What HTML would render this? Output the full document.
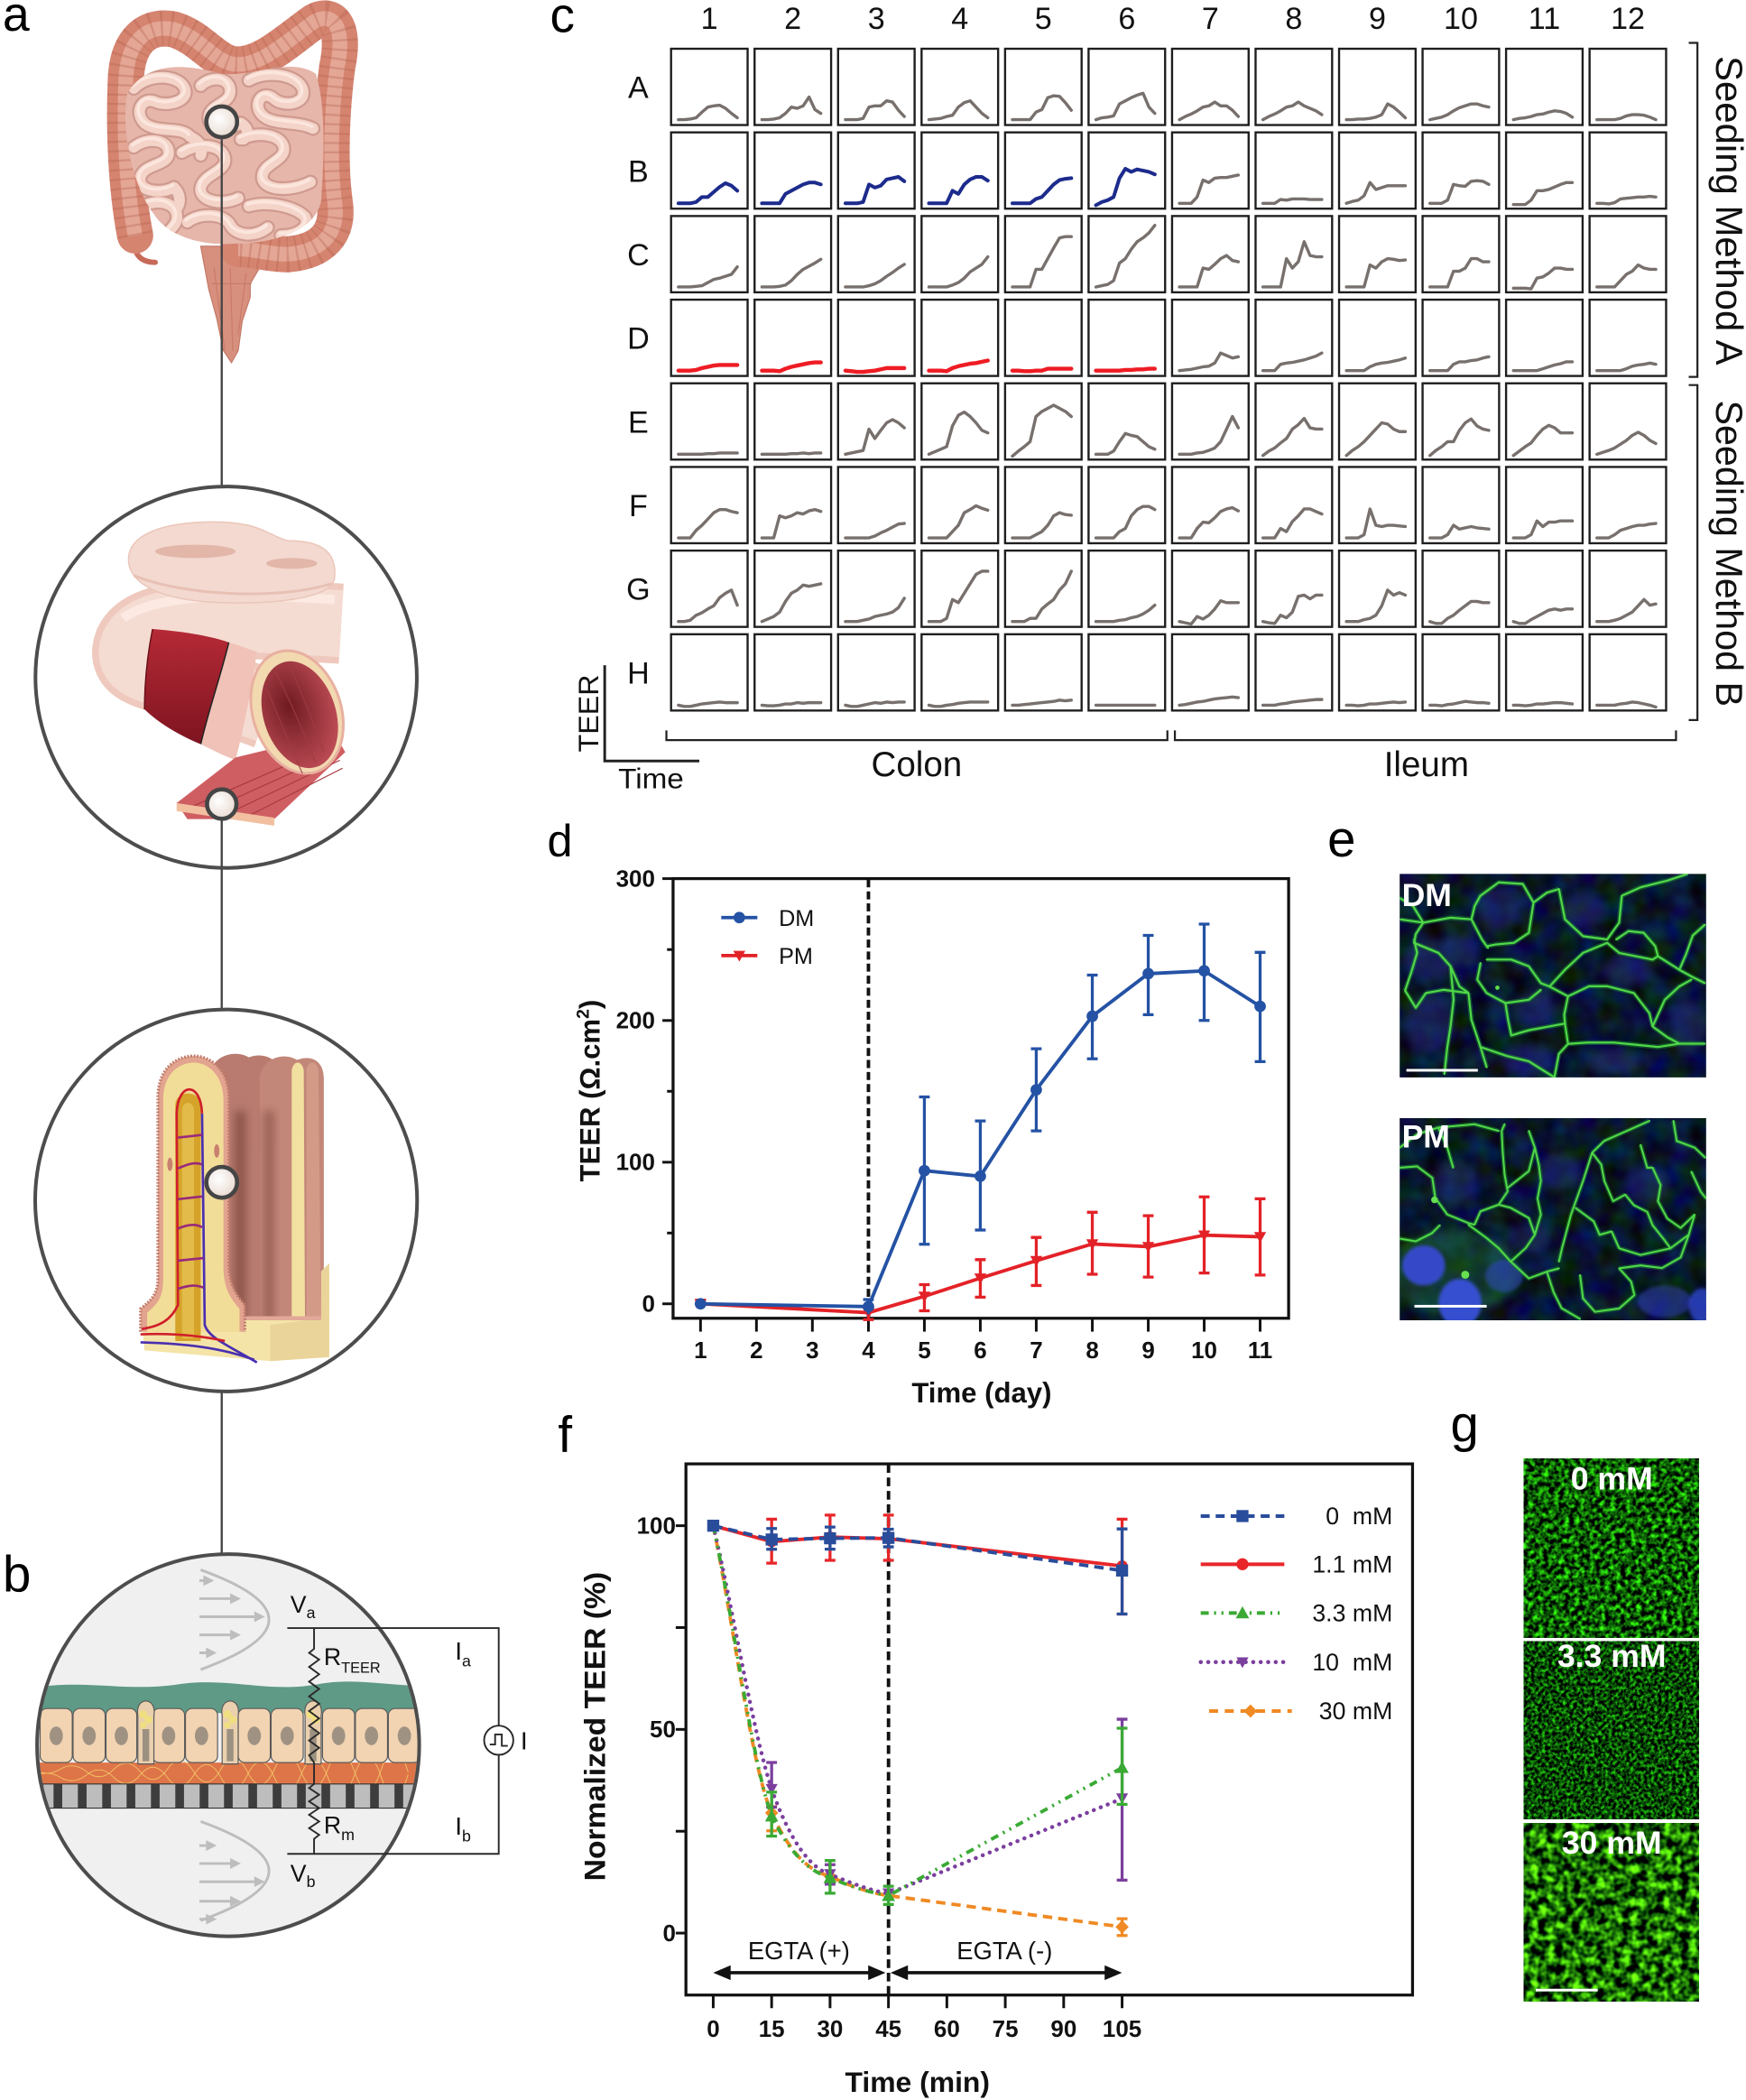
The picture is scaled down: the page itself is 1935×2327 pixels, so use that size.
<!DOCTYPE html>
<html><head><meta charset="utf-8">
<style>
html,body{margin:0;padding:0;background:#fff;}
svg{display:block;}
text{font-family:"Liberation Sans",Arial,sans-serif;}
.sp{fill:none;stroke-linejoin:round;stroke-linecap:round;vector-effect:non-scaling-stroke;}
.gy{stroke:#77706c;stroke-width:3.4;}
.bl{stroke:#1c2b8c;stroke-width:4;}
.rd{stroke:#ee1c24;stroke-width:4.4;}
.bx{fill:none;stroke:#1e1e1e;stroke-width:1.6;}
</style></head>
<body>
<svg xmlns="http://www.w3.org/2000/svg" xmlns:xlink="http://www.w3.org/1999/xlink" width="1935" height="2327" viewBox="0 0 1304.8 1569.1">
<defs>
<clipPath id="c1"><circle cx="169" cy="506" r="141"/></clipPath>
<clipPath id="c2"><circle cx="169" cy="897" r="141"/></clipPath>
<clipPath id="c3"><circle cx="170.5" cy="1304" r="141.5"/></clipPath>
<clipPath id="si"><path d="M 95 70 C 110 45, 140 48, 165 55 C 190 58, 215 42, 236 55 C 244 80, 242 120, 240 150 C 236 172, 205 182, 175 182 C 150 184, 125 176, 115 160 C 100 140, 90 100, 95 70 Z"/></clipPath>
<clipPath id="eDM"><rect x="0" y="0" width="229" height="152"/></clipPath>
<clipPath id="ePM"><rect x="0" y="0" width="229" height="151"/></clipPath>
<linearGradient id="redband" x1="0" y1="0" x2="0" y2="1"><stop offset="0" stop-color="#b52a36"/><stop offset="1" stop-color="#7e1420"/></linearGradient>
<radialGradient id="redint" cx="0.4" cy="0.4" r="0.7"><stop offset="0" stop-color="#6e1a20"/><stop offset="1" stop-color="#c4505a"/></radialGradient>
<radialGradient id="ringf" cx="0.4" cy="0.4" r="0.7"><stop offset="0" stop-color="#ffffff"/><stop offset="1" stop-color="#e6d6cc"/></radialGradient>
<filter id="blur3" x="-50%" y="-50%" width="200%" height="200%"><feGaussianBlur stdDeviation="3"/></filter>
<filter id="blur1" x="-50%" y="-50%" width="200%" height="200%"><feGaussianBlur stdDeviation="1.2"/></filter>
<filter id="g1" x="0" y="0" width="1" height="1" color-interpolation-filters="sRGB">
<feTurbulence type="fractalNoise" baseFrequency="0.26" numOctaves="2" seed="4"/>
<feColorMatrix type="matrix" values="0.5 0 0 0 -0.2  2.2 0 0 0 -0.74  0.12 0 0 0 -0.04  0 0 0 0 1"/></filter>
<filter id="g2" x="0" y="0" width="1" height="1" color-interpolation-filters="sRGB">
<feTurbulence type="fractalNoise" baseFrequency="0.38" numOctaves="2" seed="9"/>
<feColorMatrix type="matrix" values="0.4 0 0 0 -0.17  1.9 0 0 0 -0.66  0.12 0 0 0 -0.04  0 0 0 0 1"/></filter>
<filter id="g3" x="0" y="0" width="1" height="1" color-interpolation-filters="sRGB">
<feTurbulence type="fractalNoise" baseFrequency="0.16" numOctaves="2" seed="17"/>
<feColorMatrix type="matrix" values="1.2 0 0 0 -0.5  2.4 0 0 0 -0.78  0.15 0 0 0 -0.05  0 0 0 0 1"/></filter>
<filter id="en" x="0" y="0" width="1" height="1" color-interpolation-filters="sRGB">
<feTurbulence type="fractalNoise" baseFrequency="0.06" numOctaves="2" seed="5"/>
<feColorMatrix type="matrix" values="0.1 0 0 0 -0.02  0 0.3 0 0 -0.06  0 0 0.5 0 -0.08  0 0 0 0 1"/></filter>
<g id="dmL">
<polyline points="0.7,34 17.6,36.4 37.9,32.7 53.6,33.9 61.5,49 66,55.3"/>
<polyline points="53.6,33.9 56,24 60.3,16.3 74,6.3 92,7.5 100,21.4 96.5,44 85.3,51.5 71.8,52.7 65,54"/>
<polyline points="119,11.3 123.5,33.9 137,46.5 155,49 164,36.4 166,16.3"/>
<polyline points="161.8,49 171,42.7 182.3,44 191,54 193,61.5 189,64 164,59 155,51.5"/>
<polyline points="193,61.5 209,71.6 218,76.6 228,81.6"/>
<polyline points="65,64 83.4,64 96.5,69 105.5,81.6 112,84.1 123.5,71.6 137,59 155,51.5"/>
<polyline points="60.4,66.6 58,79 65,89 79,96.5 96.5,94 105.5,86.6"/>
<polyline points="79,96.5 81,109 83.4,120.6 96.5,116.8 123.5,111.8"/>
<polyline points="112,84.1 125.8,91.4 141.5,83.9 155,83.9 175,89 186.6,104 189,114"/>
<polyline points="189,114 198,94.2 209,84 218,79"/>
<polyline points="125.8,91.4 123,105 123.5,111.8 125.8,127 119,134.4 115.6,152"/>
<polyline points="125.8,127 140,126 160,126 193,129.3 209,126.8 228,126.8"/>
<polyline points="10.8,49 13,59 8.5,74 4,87.1"/>
<polyline points="10.8,51.5 29,59 38,69 44.6,84 51.4,89"/>
<polyline points="38,69 40.3,94 38,114 35.6,129.3 33.4,149.5"/>
<polyline points="51.4,89 53.6,109 60.4,129.3 65,144.4"/>
<polyline points="19.6,89 33,86.6 51.4,89"/>
<polyline points="17.6,36.4 12,45 10.8,51.5"/>
<polyline points="0,18 10,24 17.6,36.4"/>
<polyline points="166,16.3 180,10 200,5 215,0"/>
<polyline points="228,38 219,46 214,60 209,71.6"/>
<polyline points="60.4,129.3 80,136 96.5,140 115.6,152"/>
<polyline points="189,114 200,122 209,126.8"/>
<polyline points="100,21.4 110,14 119,11.3"/>
<polyline points="4,87.1 12,100 19.6,89"/>
</g>
<g id="pmL">
<polyline points="0,37 13,36 24.4,44.6 26.6,59.6 35.6,72 51.4,78.4 55.9,79.6"/>
<polyline points="55.9,79.6 60.4,69.6 74,64.6 83,67 96.5,74.6 101,87.1"/>
<polyline points="74,64.6 80.7,54.6 78.4,42 77,25 76.2,9.5 78.4,4.5"/>
<polyline points="80.7,52 96.5,39.5 101,22 96.5,9.5"/>
<polyline points="101,22 104,35 105.5,47 103,60 105.5,72 101,87.1 94.2,97 83,107.2"/>
<polyline points="83,107.2 96.5,119.7 110,114.7 119,112.2"/>
<polyline points="143.8,25.8 137,47 128,72.1 121.3,97.2 119,107.2"/>
<polyline points="143.8,25.8 152.8,17 175.4,7 186.6,2"/>
<polyline points="143.8,25.8 150.6,34.6 153,47 159.5,62 168.5,57.1"/>
<polyline points="131.5,67.1 145,77.1 149.4,87.1 158.4,84.6"/>
<polyline points="164,97.2 180,102.2 202.4,97.2 216,87.1 220.4,72.1"/>
<polyline points="204.6,2 207,17 220.4,22 228.3,29.5"/>
<polyline points="134.8,117.2 137,134.7 146,144.7 164,142.2 175.4,132.2 173,122.2 164,112.2"/>
<polyline points="51.4,79.6 65,89.6 74,97.2 83,107.2"/>
<polyline points="0,22 13,12 28.8,7 55.9,4.5 74,9.5"/>
<polyline points="28.8,7 35.6,22 40,37"/>
<polyline points="168.5,57.1 175,65 185,70 189,80 197,90 202.4,97.2"/>
<polyline points="189,37 195,50 193,62 200,75 210,82 220.4,72.1"/>
<polyline points="158.4,84.6 164,97.2"/>
<polyline points="110,114.7 115,130 121,142 134.8,150"/>
<polyline points="164,112.2 180,110 196,112 210,104 216,87.1"/>
<polyline points="218,40 225,55 229,60"/>
<polyline points="180,20 185,37 189,37"/>
<polyline points="0,90 12,92 24,86 30,80"/>
</g>
</defs>

<text x="2" y="23" font-size="36">a</text>
<text x="2" y="1189" font-size="38">b</text>
<text x="411" y="24" font-size="37">c</text>
<text x="409" y="640" font-size="34">d</text>
<text x="992" y="640" font-size="38">e</text>
<text x="417" y="1085" font-size="38">f</text>
<text x="1084" y="1077" font-size="38">g</text>

<!-- ================= PANEL A ================= -->
<g stroke="#454545" stroke-width="1.6">
<line x1="165.7" y1="612" x2="165.7" y2="755"/>
<line x1="165.7" y1="895" x2="165.7" y2="1162"/>
</g>
<path d="M 150 184 L 190 184 L 194 200 L 187 212 L 187 222 L 181 240 L 178 262 L 173 271 L 167 262 L 162 238 L 156 216 Z" fill="#d8907e" stroke="#c27866" stroke-width="0.8"/>
<path d="M 160 200 L 168 262 M 172 200 L 174 262 M 184 204 L 178 250 M 158 212 L 188 212" stroke="#c47060" stroke-width="0.8" fill="none" opacity="0.7"/>
<path d="M 103 178 C 98 188, 104 196, 116 196" stroke="#c76a58" stroke-width="4" fill="none" stroke-linecap="round"/>
<path d="M 101 176 C 96 150, 92 110, 94 60 C 95 30, 110 18, 130 22 C 150 28, 160 46, 175 48 C 195 50, 215 30, 235 16 C 250 8, 258 22, 252 50 C 248 80, 246 120, 250 150 C 254 175, 240 188, 215 190 C 200 190, 190 186, 178 186" stroke="#d58470" stroke-width="27" fill="none" stroke-linecap="round"/>
<path d="M 101 176 C 96 150, 92 110, 94 60 C 95 30, 110 18, 130 22 C 150 28, 160 46, 175 48 C 195 50, 215 30, 235 16 C 250 8, 258 22, 252 50 C 248 80, 246 120, 250 150 C 254 175, 240 188, 215 190 C 200 190, 190 186, 178 186" stroke="#e8b2a2" stroke-width="11" fill="none" opacity="0.75"/>
<path d="M 101 176 C 96 150, 92 110, 94 60 C 95 30, 110 18, 130 22 C 150 28, 160 46, 175 48 C 195 50, 215 30, 235 16 C 250 8, 258 22, 252 50 C 248 80, 246 120, 250 150 C 254 175, 240 188, 215 190 C 200 190, 190 186, 178 186" stroke="#b5604e" stroke-width="27" fill="none" stroke-dasharray="1.5 5.5" opacity="0.35"/>
<path d="M 95 70 C 110 45, 140 48, 165 55 C 190 58, 215 42, 236 55 C 244 80, 242 120, 240 150 C 236 172, 205 182, 175 182 C 150 184, 125 176, 115 160 C 100 140, 90 100, 95 70 Z" fill="#e6b6aa"/>
<g clip-path="url(#si)" fill="none" stroke-linecap="round" stroke-linejoin="round">
<g stroke="#cf9a8f" stroke-width="11">
<path d="M 100 66 C 112 54, 134 56, 138 66 C 142 76, 124 80, 116 76 C 106 72, 100 84, 108 92 C 118 100, 136 94, 142 102"/>
<path d="M 150 64 C 158 56, 172 58, 172 68 C 172 78, 156 78, 156 88 C 156 96, 170 98, 180 92"/>
<path d="M 186 60 C 200 52, 222 56, 226 66 C 230 78, 212 80, 205 74 C 196 66, 188 78, 196 86 C 204 94, 222 90, 234 96"/>
<path d="M 100 110 C 110 102, 126 104, 126 114 C 126 124, 108 122, 105 132 C 102 142, 118 146, 130 140"/>
<path d="M 136 114 C 148 106, 166 108, 168 118 C 170 128, 152 130, 150 140 C 148 150, 166 154, 178 148"/>
<path d="M 180 104 C 192 98, 210 100, 212 110 C 214 120, 196 122, 196 132 C 196 142, 216 144, 232 136"/>
<path d="M 104 156 C 114 148, 130 150, 132 160 C 134 170, 122 172, 126 178"/>
<path d="M 140 166 C 150 158, 168 160, 172 168 C 176 176, 190 178, 200 170"/>
<path d="M 186 154 C 200 150, 220 154, 228 162 C 232 170, 222 176, 210 176"/>
<path d="M 142 102 C 150 106, 152 110, 150 116"/>
<path d="M 180 92 C 186 96, 186 100, 182 104"/>
<path d="M 130 140 C 134 144, 136 150, 132 156"/>
</g>
<g stroke="#f4d3c8" stroke-width="8">
<path d="M 100 66 C 112 54, 134 56, 138 66 C 142 76, 124 80, 116 76 C 106 72, 100 84, 108 92 C 118 100, 136 94, 142 102"/>
<path d="M 150 64 C 158 56, 172 58, 172 68 C 172 78, 156 78, 156 88 C 156 96, 170 98, 180 92"/>
<path d="M 186 60 C 200 52, 222 56, 226 66 C 230 78, 212 80, 205 74 C 196 66, 188 78, 196 86 C 204 94, 222 90, 234 96"/>
<path d="M 100 110 C 110 102, 126 104, 126 114 C 126 124, 108 122, 105 132 C 102 142, 118 146, 130 140"/>
<path d="M 136 114 C 148 106, 166 108, 168 118 C 170 128, 152 130, 150 140 C 148 150, 166 154, 178 148"/>
<path d="M 180 104 C 192 98, 210 100, 212 110 C 214 120, 196 122, 196 132 C 196 142, 216 144, 232 136"/>
<path d="M 104 156 C 114 148, 130 150, 132 160 C 134 170, 122 172, 126 178"/>
<path d="M 140 166 C 150 158, 168 160, 172 168 C 176 176, 190 178, 200 170"/>
<path d="M 186 154 C 200 150, 220 154, 228 162 C 232 170, 222 176, 210 176"/>
<path d="M 142 102 C 150 106, 152 110, 150 116"/>
<path d="M 180 92 C 186 96, 186 100, 182 104"/>
<path d="M 130 140 C 134 144, 136 150, 132 156"/>
</g>
<g stroke="#fce8e0" stroke-width="2.5" transform="translate(-1 -1.6)" opacity="0.9">
<path d="M 100 66 C 112 54, 134 56, 138 66 C 142 76, 124 80, 116 76 C 106 72, 100 84, 108 92 C 118 100, 136 94, 142 102"/>
<path d="M 150 64 C 158 56, 172 58, 172 68 C 172 78, 156 78, 156 88 C 156 96, 170 98, 180 92"/>
<path d="M 186 60 C 200 52, 222 56, 226 66 C 230 78, 212 80, 205 74 C 196 66, 188 78, 196 86 C 204 94, 222 90, 234 96"/>
<path d="M 100 110 C 110 102, 126 104, 126 114 C 126 124, 108 122, 105 132 C 102 142, 118 146, 130 140"/>
<path d="M 136 114 C 148 106, 166 108, 168 118 C 170 128, 152 130, 150 140 C 148 150, 166 154, 178 148"/>
<path d="M 180 104 C 192 98, 210 100, 212 110 C 214 120, 196 122, 196 132 C 196 142, 216 144, 232 136"/>
<path d="M 104 156 C 114 148, 130 150, 132 160 C 134 170, 122 172, 126 178"/>
<path d="M 140 166 C 150 158, 168 160, 172 168 C 176 176, 190 178, 200 170"/>
<path d="M 186 154 C 200 150, 220 154, 228 162 C 232 170, 222 176, 210 176"/>
</g>
</g>
<line x1="165.7" y1="104" x2="165.7" y2="364" stroke="#454545" stroke-width="1.6"/>
<circle cx="165.7" cy="91" r="11.5" fill="url(#ringf)" stroke="#454545" stroke-width="3.1"/>

<circle cx="169" cy="506" r="142.5" fill="#fff" stroke="#4d4d4d" stroke-width="2.7"/>
<line x1="165.7" y1="612" x2="165.7" y2="648" stroke="#454545" stroke-width="1.6"/>
<g clip-path="url(#c1)">
<path d="M 255 466 C 190 462, 112 456, 100 482 C 94 498, 112 500, 135 507 L 200 530" stroke="#efc9bd" stroke-width="60" fill="none"/>
<path d="M 255 466 C 190 462, 112 456, 100 482 C 94 498, 112 500, 135 507 L 200 530" stroke="#f5dcd2" stroke-width="50" fill="none"/>
<path d="M 250 448 C 190 444, 118 442, 92 462" stroke="#fbebe5" stroke-width="7" fill="none" opacity="0.85"/>
<path d="M 96 418 C 96 400, 120 390, 160 390 C 195 390, 200 400, 215 404 C 240 404, 252 412, 250 432 C 248 448, 200 452, 160 450 C 120 448, 96 436, 96 418 Z" fill="#f3d9cf" stroke="#ebc6ba" stroke-width="1"/>
<ellipse cx="146" cy="412" rx="30" ry="5" fill="#e2b6a9"/>
<ellipse cx="218" cy="421" rx="19" ry="4" fill="#e2b6a9"/>
<path d="M 100 430 C 140 446, 210 448, 248 436" stroke="#e8c0b4" stroke-width="2" fill="none"/>
<path d="M 114 470 C 140 472, 160 476, 171 480 C 165 505, 156 530, 150 556 C 135 550, 118 540, 108 530 C 108 510, 110 490, 114 470 Z" fill="url(#redband)"/>
<path d="M 171 480 C 178 482, 186 485, 192 487 C 188 515, 182 545, 176 568 C 168 565, 158 560, 150 556 C 156 530, 165 505, 171 480 Z" fill="#f0c2b8"/>
<path d="M 171 480 C 165 505, 156 530, 150 556" stroke="#222" stroke-width="1" fill="none"/>
<path d="M 114 470 C 110 490, 108 510, 108 530" stroke="#6a1018" stroke-width="1" fill="none"/>
<polygon points="176,566 250,548 258,562 205,612 140,612 132,600" fill="#cf5e62"/>
<path d="M 145 602 L 250 556 M 155 606 L 252 562 M 168 609 L 254 568 M 185 610 L 256 574" stroke="#a83a40" stroke-width="0.8"/>
<polygon points="132,600 205,611 205,617 132,606" fill="#f2c0a0"/>
<ellipse cx="222" cy="532" rx="33" ry="47" transform="rotate(-18 222 532)" fill="#f2d9b0" stroke="#e8b0a0" stroke-width="2"/>
<ellipse cx="224" cy="534" rx="27" ry="41" transform="rotate(-18 224 534)" fill="url(#redint)"/>
<path d="M 206 502 C 216 522, 226 545, 236 570 M 216 497 C 226 518, 234 540, 242 562 M 199 514 C 208 535, 216 555, 226 578" stroke="#a03a44" stroke-width="1" fill="none" opacity="0.7"/>
</g>
<circle cx="165.7" cy="600.8" r="11" fill="url(#ringf)" stroke="#454545" stroke-width="3.1"/>

<circle cx="169" cy="897" r="142.7" fill="#fff" stroke="#4d4d4d" stroke-width="2.7"/>
<g clip-path="url(#c2)">
<path d="M 156 805 C 158 788, 176 784, 186 790 C 196 786, 210 790, 210 806 L 210 990 L 156 990 Z" fill="#b97b70"/>
<path d="M 194 806 C 196 790, 212 786, 222 792 C 232 788, 242 792, 242 806 L 242 990 L 194 990 Z" fill="#c38779"/>
<rect x="175" y="830" width="9" height="160" fill="#6e3a33" opacity="0.55" filter="url(#blur3)"/>
<rect x="197" y="830" width="8" height="160" fill="#6e3a33" opacity="0.45" filter="url(#blur3)"/>
<path d="M 218 800 C 219 792, 226 792, 227 800 L 228 1000 L 218 1000 Z" fill="#f2e0a0"/>
<path d="M 229 800 C 230 792, 237 792, 238 800 L 240 1000 L 229 1000 Z" fill="#d39a88"/>
<polygon points="106,988 108,1009 202,1017 246,1014 246,944 240,950 240,985 170,985" fill="#f4e4a8"/>
<polygon points="202,1017 246,1014 246,944 240,950 240,985 202,990" fill="#ead49a"/>
<path d="M 170 985 L 240 985" stroke="#e2a898" stroke-width="3"/>
<path d="M 105 995 L 105 978 C 112 972, 118 968, 118 955 L 118 820 C 118 798, 132 789, 145 789 C 158 789, 171 800, 171 820 L 171 945 C 171 960, 177 968, 183 975 L 183 995 Z" fill="#e2a48f"/>
<path d="M 105 995 L 105 978 C 112 972, 118 968, 118 955 L 118 820 C 118 798, 132 789, 145 789 C 158 789, 171 800, 171 820 L 171 945 C 171 960, 177 968, 183 975 L 183 995" fill="none" stroke="#c07a6a" stroke-width="2.2" stroke-dasharray="1.2 1.2"/>
<path d="M 110 995 L 110 981 C 116 975, 122 972, 122 955 L 122 822 C 122 802, 134 794, 145 794 C 156 794, 167 804, 167 822 L 167 947 C 167 962, 172 970, 179 978 L 179 995 Z" fill="#f2dd98"/>
<path d="M 131 1002 L 131 826 C 131 814, 150 814, 150 826 L 150 1002 Z" fill="#d5a32a"/>
<path d="M 136 1000 L 136 830 C 136 822, 145 822, 145 830 L 145 1000 Z" fill="#e2bb4a"/>
<g fill="none" stroke-width="1.8">
<path d="M 106 993 C 120 991, 128 986, 133 975 L 132 832 C 133 808, 150 808, 151 832" stroke="#d0202a"/>
<path d="M 151 832 L 153 990 C 156 1000, 172 1006, 192 1018" stroke="#4a2fb0"/>
<path d="M 133 850 L 151 848 M 133 873 C 140 870, 145 868, 151 870 M 133 896 L 151 894 M 133 918 C 140 915, 146 914, 151 917 M 133 942 L 152 940 M 133 963 C 142 960, 146 960, 152 962" stroke="#9a2a7a"/>
<path d="M 105 997 C 130 996, 150 998, 168 1002" stroke="#d0202a"/>
<path d="M 105 1003 C 140 1004, 165 1007, 190 1016" stroke="#4a2fb0"/>
</g>
<ellipse cx="127" cy="870" rx="2" ry="5" fill="#c88070"/>
<ellipse cx="162" cy="860" rx="2" ry="5" fill="#c88070"/>
</g>
<circle cx="165.7" cy="883.4" r="11.5" fill="url(#ringf)" stroke="#454545" stroke-width="3.1"/>

<!-- ================= PANEL B ================= -->
<circle cx="170.5" cy="1304" r="142.8" fill="#f0f0f0"/>
<g clip-path="url(#c3)">
<path d="M 20 1262 C 60 1254, 90 1264, 130 1259 C 170 1252, 200 1266, 240 1258 C 270 1253, 300 1262, 330 1259 L 330 1280 L 20 1280 Z" fill="#5f9a86"/>
<rect x="20" y="1317" width="320" height="16" fill="#de7548"/>
<path d="M 25 1322 q 10 6 20 0 t 20 2 t 20 -2 t 20 2 t 20 -2 t 20 2 t 20 -2 t 20 2 t 20 -2 t 20 2 t 20 -2 t 20 2 t 20 -2 t 20 2 M 25 1328 q 10 -6 20 0 t 20 -2 t 20 2 t 20 -2 t 20 2 t 20 -2 t 20 2 t 20 -2 t 20 2 t 20 -2 t 20 2 t 20 -2 t 20 2 t 20 -2" stroke="#f3c468" stroke-width="0.6" fill="none"/>
<rect x="20" y="1333" width="320" height="18" fill="#bdbdbd"/>
<g fill="#3d3d3d">
<rect x="40" y="1333" width="6.5" height="18"/><rect x="58.2" y="1333" width="6.5" height="18"/><rect x="76.4" y="1333" width="6.5" height="18"/><rect x="94.6" y="1333" width="6.5" height="18"/><rect x="112.8" y="1333" width="6.5" height="18"/><rect x="131" y="1333" width="6.5" height="18"/><rect x="149.2" y="1333" width="6.5" height="18"/><rect x="167.4" y="1333" width="6.5" height="18"/><rect x="185.6" y="1333" width="6.5" height="18"/><rect x="203.8" y="1333" width="6.5" height="18"/><rect x="222" y="1333" width="6.5" height="18"/><rect x="240.2" y="1333" width="6.5" height="18"/><rect x="258.4" y="1333" width="6.5" height="18"/><rect x="276.6" y="1333" width="6.5" height="18"/><rect x="294.8" y="1333" width="6.5" height="18"/><rect x="26" y="1333" width="6.5" height="18"/>
</g>
<line x1="20" y1="1333" x2="340" y2="1333" stroke="#333" stroke-width="0.8"/>
<line x1="20" y1="1351" x2="340" y2="1351" stroke="#333" stroke-width="0.8"/>
<g fill="#f2d4b2" stroke="#5a5a5a" stroke-width="0.8">
<rect x="30" y="1276.6" width="24" height="40.4" rx="5"/><rect x="54.6" y="1276.6" width="24" height="40.4" rx="5"/><rect x="79.2" y="1276.6" width="23" height="40.4" rx="5"/><rect x="114" y="1276.6" width="24" height="40.4" rx="5"/><rect x="138.6" y="1276.6" width="24" height="40.4" rx="5"/><rect x="178" y="1276.6" width="24" height="40.4" rx="5"/><rect x="202.6" y="1276.6" width="24" height="40.4" rx="5"/><rect x="241" y="1276.6" width="24" height="40.4" rx="5"/><rect x="265.6" y="1276.6" width="24" height="40.4" rx="5"/><rect x="290.2" y="1276.6" width="24" height="40.4" rx="5"/>
</g>
<g fill="#a09282">
<ellipse cx="42" cy="1297" rx="5" ry="7"/><ellipse cx="66.6" cy="1297" rx="5" ry="7"/><ellipse cx="90.7" cy="1297" rx="5" ry="7"/><ellipse cx="126" cy="1297" rx="5" ry="7"/><ellipse cx="150.6" cy="1297" rx="5" ry="7"/><ellipse cx="190" cy="1297" rx="5" ry="7"/><ellipse cx="214.6" cy="1297" rx="5" ry="7"/><ellipse cx="253" cy="1297" rx="5" ry="7"/><ellipse cx="277.6" cy="1297" rx="5" ry="7"/><ellipse cx="302.2" cy="1297" rx="5" ry="7"/>
</g>
<g>
<path d="M 103 1318 L 103 1282 C 102 1276, 104 1272, 108 1271 L 110 1271 C 114 1272, 116 1276, 115 1282 L 115 1318 Z" fill="#ead0ae" stroke="#5a5a5a" stroke-width="0.8"/>
<rect x="106.5" y="1292" width="5" height="24" fill="#9c9080"/>
<circle cx="107" cy="1281" r="3" fill="#f0df80"/><circle cx="111" cy="1285" r="3" fill="#f0df80"/><circle cx="107" cy="1289" r="2.5" fill="#f0df80"/>
<path d="M 166 1318 L 166 1282 C 165 1276, 167 1272, 171 1271 L 173 1271 C 177 1272, 179 1276, 178 1282 L 178 1318 Z" fill="#ead0ae" stroke="#5a5a5a" stroke-width="0.8"/>
<rect x="169.5" y="1292" width="5" height="24" fill="#9c9080"/>
<circle cx="170" cy="1281" r="3" fill="#f0df80"/><circle cx="174" cy="1285" r="3" fill="#f0df80"/><circle cx="170" cy="1289" r="2.5" fill="#f0df80"/>
<path d="M 228 1318 L 228 1282 C 227 1276, 229 1272, 233 1271 L 235 1271 C 239 1272, 241 1276, 240 1282 L 240 1318 Z" fill="#ead0ae" stroke="#5a5a5a" stroke-width="0.8"/>
<rect x="231.5" y="1292" width="5" height="24" fill="#9c9080"/>
<circle cx="232" cy="1281" r="3" fill="#f0df80"/><circle cx="236" cy="1285" r="3" fill="#f0df80"/>
</g>
<g fill="none" stroke="#bdbdbd" stroke-width="2">
<path d="M 150 1173 Q 252 1210 150 1247.5"/>
<path d="M 150 1361 Q 252 1398 150 1435"/>
<path d="M 149 1181 L 153 1181 M 149 1194.5 L 172 1194.5 M 149 1208 L 190 1208 M 149 1221.6 L 172 1221.6 M 149 1235 L 154 1235"/>
<path d="M 149 1379 L 154 1379 M 149 1392.4 L 172 1392.4 M 149 1406 L 190 1406 M 149 1420.6 L 172 1420.6 M 149 1434 L 154 1434"/>
</g>
<g fill="#bdbdbd">
<polygon points="160,1181 152,1177 152,1185"/><polygon points="180,1194.5 172,1190.5 172,1198.5"/><polygon points="198,1208 190,1204 190,1212"/><polygon points="180,1221.6 172,1217.6 172,1225.6"/><polygon points="162,1235 154,1231 154,1239"/>
<polygon points="162,1379 154,1375 154,1383"/><polygon points="180,1392.4 172,1388.4 172,1396.4"/><polygon points="198,1406 190,1402 190,1410"/><polygon points="180,1420.6 172,1416.6 172,1424.6"/><polygon points="162,1434 154,1430 154,1438"/>
</g>
</g>
<circle cx="170.5" cy="1304" r="142.8" fill="none" stroke="#4d4d4d" stroke-width="2.7"/>
<g fill="none" stroke="#2a2a2a" stroke-width="1.3">
<path d="M 214.7 1216.5 L 372.7 1216.5 L 372.7 1289.4 M 372.7 1311.2 L 372.7 1385.2 L 214.7 1385.2"/>
<polyline points="234.7,1216.5 234.7,1232 231,1235 238.5,1240 231,1245.5 238.5,1251 231,1256.5 238.5,1262 231,1267.5 238.5,1273 231,1278.5 238.5,1284 231,1289.5 238.5,1295 231,1300.5 238.5,1306 231,1311.5 234.7,1317 234.7,1333 231,1336 238.5,1341 231,1346 238.5,1351 231,1356 238.5,1361 231,1366 238.5,1371 234.7,1374 234.7,1385.2"/>
<circle cx="372.7" cy="1300.3" r="10.9" fill="#fff"/>
<path d="M 366 1303.5 L 370 1303.5 L 370 1296 L 375 1296 L 375 1304.5 L 379.5 1304.5"/>
</g>
<g font-size="18" fill="#111">
<text x="217" y="1205">V<tspan font-size="12" dy="4">a</tspan></text>
<text x="242" y="1244">R<tspan font-size="11" dy="6">TEER</tspan></text>
<text x="242" y="1370">R<tspan font-size="12" dy="5">m</tspan></text>
<text x="217" y="1406">V<tspan font-size="12" dy="4">b</tspan></text>
</g>
<g font-size="19" fill="#111" style="font-family:'Liberation Serif',serif">
<text x="340" y="1240">I<tspan font-size="12" dy="5" style="font-family:'Liberation Sans',sans-serif">a</tspan></text>
<text x="340" y="1371">I<tspan font-size="12" dy="5" style="font-family:'Liberation Sans',sans-serif">b</tspan></text>
<text x="389" y="1307">I</text>
</g>

<!-- ================= PANEL C ================= -->
<g font-size="23" fill="#111" text-anchor="middle">
<text x="530.1" y="21.5">1</text><text x="592.5" y="21.5">2</text><text x="654.9" y="21.5">3</text><text x="717.3" y="21.5">4</text><text x="779.7" y="21.5">5</text><text x="842.1" y="21.5">6</text><text x="904.5" y="21.5">7</text><text x="966.9" y="21.5">8</text><text x="1029.3" y="21.5">9</text><text x="1091.7" y="21.5">10</text><text x="1154.1" y="21.5">11</text><text x="1216.5" y="21.5">12</text>
<text x="477" y="73.2">A</text><text x="477" y="135.7">B</text><text x="477" y="198.2">C</text><text x="477" y="260.7">D</text><text x="477" y="323.2">E</text><text x="477" y="385.7">F</text><text x="477" y="448.2">G</text><text x="477" y="510.7">H</text>
</g>
<g class="bx">
<rect x="501.5" y="36.4" width="57.2" height="57"/><rect x="563.9" y="36.4" width="57.2" height="57"/><rect x="626.3" y="36.4" width="57.2" height="57"/><rect x="688.7" y="36.4" width="57.2" height="57"/><rect x="751.1" y="36.4" width="57.2" height="57"/><rect x="813.5" y="36.4" width="57.2" height="57"/><rect x="875.9" y="36.4" width="57.2" height="57"/><rect x="938.3" y="36.4" width="57.2" height="57"/><rect x="1000.7" y="36.4" width="57.2" height="57"/><rect x="1063.1" y="36.4" width="57.2" height="57"/><rect x="1125.5" y="36.4" width="57.2" height="57"/><rect x="1187.9" y="36.4" width="57.2" height="57"/>
<rect x="501.5" y="98.9" width="57.2" height="57"/><rect x="563.9" y="98.9" width="57.2" height="57"/><rect x="626.3" y="98.9" width="57.2" height="57"/><rect x="688.7" y="98.9" width="57.2" height="57"/><rect x="751.1" y="98.9" width="57.2" height="57"/><rect x="813.5" y="98.9" width="57.2" height="57"/><rect x="875.9" y="98.9" width="57.2" height="57"/><rect x="938.3" y="98.9" width="57.2" height="57"/><rect x="1000.7" y="98.9" width="57.2" height="57"/><rect x="1063.1" y="98.9" width="57.2" height="57"/><rect x="1125.5" y="98.9" width="57.2" height="57"/><rect x="1187.9" y="98.9" width="57.2" height="57"/>
<rect x="501.5" y="161.4" width="57.2" height="57"/><rect x="563.9" y="161.4" width="57.2" height="57"/><rect x="626.3" y="161.4" width="57.2" height="57"/><rect x="688.7" y="161.4" width="57.2" height="57"/><rect x="751.1" y="161.4" width="57.2" height="57"/><rect x="813.5" y="161.4" width="57.2" height="57"/><rect x="875.9" y="161.4" width="57.2" height="57"/><rect x="938.3" y="161.4" width="57.2" height="57"/><rect x="1000.7" y="161.4" width="57.2" height="57"/><rect x="1063.1" y="161.4" width="57.2" height="57"/><rect x="1125.5" y="161.4" width="57.2" height="57"/><rect x="1187.9" y="161.4" width="57.2" height="57"/>
<rect x="501.5" y="223.9" width="57.2" height="57"/><rect x="563.9" y="223.9" width="57.2" height="57"/><rect x="626.3" y="223.9" width="57.2" height="57"/><rect x="688.7" y="223.9" width="57.2" height="57"/><rect x="751.1" y="223.9" width="57.2" height="57"/><rect x="813.5" y="223.9" width="57.2" height="57"/><rect x="875.9" y="223.9" width="57.2" height="57"/><rect x="938.3" y="223.9" width="57.2" height="57"/><rect x="1000.7" y="223.9" width="57.2" height="57"/><rect x="1063.1" y="223.9" width="57.2" height="57"/><rect x="1125.5" y="223.9" width="57.2" height="57"/><rect x="1187.9" y="223.9" width="57.2" height="57"/>
<rect x="501.5" y="286.4" width="57.2" height="57"/><rect x="563.9" y="286.4" width="57.2" height="57"/><rect x="626.3" y="286.4" width="57.2" height="57"/><rect x="688.7" y="286.4" width="57.2" height="57"/><rect x="751.1" y="286.4" width="57.2" height="57"/><rect x="813.5" y="286.4" width="57.2" height="57"/><rect x="875.9" y="286.4" width="57.2" height="57"/><rect x="938.3" y="286.4" width="57.2" height="57"/><rect x="1000.7" y="286.4" width="57.2" height="57"/><rect x="1063.1" y="286.4" width="57.2" height="57"/><rect x="1125.5" y="286.4" width="57.2" height="57"/><rect x="1187.9" y="286.4" width="57.2" height="57"/>
<rect x="501.5" y="348.9" width="57.2" height="57"/><rect x="563.9" y="348.9" width="57.2" height="57"/><rect x="626.3" y="348.9" width="57.2" height="57"/><rect x="688.7" y="348.9" width="57.2" height="57"/><rect x="751.1" y="348.9" width="57.2" height="57"/><rect x="813.5" y="348.9" width="57.2" height="57"/><rect x="875.9" y="348.9" width="57.2" height="57"/><rect x="938.3" y="348.9" width="57.2" height="57"/><rect x="1000.7" y="348.9" width="57.2" height="57"/><rect x="1063.1" y="348.9" width="57.2" height="57"/><rect x="1125.5" y="348.9" width="57.2" height="57"/><rect x="1187.9" y="348.9" width="57.2" height="57"/>
<rect x="501.5" y="411.4" width="57.2" height="57"/><rect x="563.9" y="411.4" width="57.2" height="57"/><rect x="626.3" y="411.4" width="57.2" height="57"/><rect x="688.7" y="411.4" width="57.2" height="57"/><rect x="751.1" y="411.4" width="57.2" height="57"/><rect x="813.5" y="411.4" width="57.2" height="57"/><rect x="875.9" y="411.4" width="57.2" height="57"/><rect x="938.3" y="411.4" width="57.2" height="57"/><rect x="1000.7" y="411.4" width="57.2" height="57"/><rect x="1063.1" y="411.4" width="57.2" height="57"/><rect x="1125.5" y="411.4" width="57.2" height="57"/><rect x="1187.9" y="411.4" width="57.2" height="57"/>
<rect x="501.5" y="473.9" width="57.2" height="57"/><rect x="563.9" y="473.9" width="57.2" height="57"/><rect x="626.3" y="473.9" width="57.2" height="57"/><rect x="688.7" y="473.9" width="57.2" height="57"/><rect x="751.1" y="473.9" width="57.2" height="57"/><rect x="813.5" y="473.9" width="57.2" height="57"/><rect x="875.9" y="473.9" width="57.2" height="57"/><rect x="938.3" y="473.9" width="57.2" height="57"/><rect x="1000.7" y="473.9" width="57.2" height="57"/><rect x="1063.1" y="473.9" width="57.2" height="57"/><rect x="1125.5" y="473.9" width="57.2" height="57"/><rect x="1187.9" y="473.9" width="57.2" height="57"/>
</g>
<polyline class="sp gy" transform="translate(507 89.4) scale(4.4 -47)" points="0,0 1,0 2,.01 3,.03 4,.12 5,.2 6,.22 7,.23 8,.18 9,.1 10,.03"/>
<polyline class="sp gy" transform="translate(569.4 89.4) scale(4.4 -47)" points="0,0 1,0 2,.01 3,.03 4,.1 5,.2 6,.18 7,.22 8,.36 9,.16 10,.1"/>
<polyline class="sp gy" transform="translate(631.8 89.4) scale(4.4 -47)" points="0,0 1,0 2,0 3,.02 4,.2 5,.22 6,.22 7,.3 8,.28 9,.15 10,.05"/>
<polyline class="sp gy" transform="translate(694.2 89.4) scale(4.4 -47)" points="0,0 1,.01 2,.02 3,.05 4,.07 5,.2 6,.27 7,.3 8,.2 9,.1 10,.03"/>
<polyline class="sp gy" transform="translate(756.6 89.4) scale(4.4 -47)" points="0,0 1,0 2,0 3,0 4,.12 5,.16 6,.35 7,.38 8,.37 9,.27 10,.15"/>
<polyline class="sp gy" transform="translate(819 89.4) scale(4.4 -47)" points="0,0 1,.03 2,.04 3,.06 4,.25 5,.3 6,.35 7,.39 8,.42 9,.2 10,.1"/>
<polyline class="sp gy" transform="translate(881.4 89.4) scale(4.4 -47)" points="0,0 1,.05 2,.09 3,.14 4,.2 5,.22 6,.28 7,.22 8,.22 9,.15 10,.05"/>
<polyline class="sp gy" transform="translate(943.8 89.4) scale(4.4 -47)" points="0,0 1,.05 2,.09 3,.14 4,.2 5,.22 6,.28 7,.22 8,.18 9,.14 10,.08"/>
<polyline class="sp gy" transform="translate(1006.2 89.4) scale(4.4 -47)" points="0,0 1,0 2,.01 3,.01 4,.02 5,.04 6,.08 7,.25 8,.2 9,.12 10,.03"/>
<polyline class="sp gy" transform="translate(1068.6 89.4) scale(4.4 -47)" points="0,0 1,.02 2,.04 3,.08 4,.14 5,.19 6,.22 7,.25 8,.25 9,.22 10,.2"/>
<polyline class="sp gy" transform="translate(1131 89.4) scale(4.4 -47)" points="0,0 1,.02 2,.03 3,.05 4,.08 5,.09 6,.12 7,.14 8,.13 9,.1 10,.04"/>
<polyline class="sp gy" transform="translate(1193.4 89.4) scale(4.4 -47)" points="0,0 1,0 2,0 3,0 4,.02 5,.06 6,.08 7,.08 8,.07 9,.04 10,0"/>
<polyline class="sp bl" transform="translate(507 151.9) scale(4.4 -47)" points="0,0 1,0 2,0 3,.02 4,.1 5,.1 6,.18 7,.26 8,.32 9,.28 10,.2"/>
<polyline class="sp bl" transform="translate(569.4 151.9) scale(4.4 -47)" points="0,0 1,0 2,0 3,0 4,.15 5,.2 6,.25 7,.3 8,.33 9,.33 10,.3"/>
<polyline class="sp bl" transform="translate(631.8 151.9) scale(4.4 -47)" points="0,0 1,0 2,0 3,.02 4,.3 5,.25 6,.28 7,.38 8,.4 9,.42 10,.35"/>
<polyline class="sp bl" transform="translate(694.2 151.9) scale(4.4 -47)" points="0,0 1,0 2,0 3,0 4,.2 5,.15 6,.3 7,.38 8,.42 9,.42 10,.36"/>
<polyline class="sp bl" transform="translate(756.6 151.9) scale(4.4 -47)" points="0,0 1,0 2,0 3,0 4,.07 5,.1 6,.2 7,.3 8,.37 9,.39 10,.4"/>
<polyline class="sp bl" transform="translate(819 151.9) scale(4.4 -47)" points="0,-.03 1,.02 2,.05 3,.1 4,.4 5,.55 6,.5 7,.54 8,.52 9,.5 10,.46"/>
<polyline class="sp gy" transform="translate(881.4 151.9) scale(4.4 -47)" points="0,0 1,0 2,0 3,.1 4,.37 5,.33 6,.4 7,.41 8,.41 9,.43 10,.45"/>
<polyline class="sp gy" transform="translate(943.8 151.9) scale(4.4 -47)" points="0,0 1,0 2,0 3,.06 4,.05 5,.07 6,.07 7,.07 8,.06 9,.06 10,.06"/>
<polyline class="sp gy" transform="translate(1006.2 151.9) scale(4.4 -47)" points="0,0 1,.03 2,.05 3,.12 4,.33 5,.22 6,.25 7,.28 8,.28 9,.28 10,.28"/>
<polyline class="sp gy" transform="translate(1068.6 151.9) scale(4.4 -47)" points="0,0 1,0 2,0 3,.05 4,.3 5,.28 6,.27 7,.35 8,.36 9,.35 10,.3"/>
<polyline class="sp gy" transform="translate(1131 151.9) scale(4.4 -47)" points="0,-.02 1,-.02 2,-.02 3,.05 4,.2 5,.2 6,.22 7,.26 8,.3 9,.33 10,.33"/>
<polyline class="sp gy" transform="translate(1193.4 151.9) scale(4.4 -47)" points="0,0 1,0 2,-.01 3,.01 4,.07 5,.08 6,.09 7,.1 8,.1 9,.11 10,.1"/>
<polyline class="sp gy" transform="translate(507 214.4) scale(4.4 -47)" points="0,0 1,0 2,0 3,.01 4,.02 5,.07 6,.12 7,.14 8,.17 9,.2 10,.32"/>
<polyline class="sp gy" transform="translate(569.4 214.4) scale(4.4 -47)" points="0,0 1,0 2,0 3,.01 4,.03 5,.1 6,.2 7,.28 8,.33 9,.38 10,.44"/>
<polyline class="sp gy" transform="translate(631.8 214.4) scale(4.4 -47)" points="0,0 1,0 2,0 3,0 4,.02 5,.05 6,.1 7,.17 8,.23 9,.3 10,.36"/>
<polyline class="sp gy" transform="translate(694.2 214.4) scale(4.4 -47)" points="0,0 1,0 2,0 3,0 4,.03 5,.07 6,.14 7,.24 8,.3 9,.36 10,.48"/>
<polyline class="sp gy" transform="translate(756.6 214.4) scale(4.4 -47)" points="0,0 1,0 2,0 3,0 4,.28 5,.28 6,.45 7,.62 8,.78 9,.8 10,.8"/>
<polyline class="sp gy" transform="translate(819 214.4) scale(4.4 -47)" points="0,0 1,.02 2,.04 3,.1 4,.38 5,.45 6,.6 7,.72 8,.78 9,.86 10,.98"/>
<polyline class="sp gy" transform="translate(881.4 214.4) scale(4.4 -47)" points="0,0 1,0 2,0 3,0 4,.3 5,.28 6,.36 7,.45 8,.5 9,.42 10,.4"/>
<polyline class="sp gy" transform="translate(943.8 214.4) scale(4.4 -47)" points="0,0 1,0 2,0 3,0 4,.45 5,.3 6,.4 7,.72 8,.5 9,.48 10,.48"/>
<polyline class="sp gy" transform="translate(1006.2 214.4) scale(4.4 -47)" points="0,0 1,0 2,0 3,0 4,.35 5,.3 6,.4 7,.45 8,.44 9,.42 10,.43"/>
<polyline class="sp gy" transform="translate(1068.6 214.4) scale(4.4 -47)" points="0,0 1,0 2,0 3,0 4,.25 5,.25 6,.3 7,.45 8,.45 9,.4 10,.4"/>
<polyline class="sp gy" transform="translate(1131 214.4) scale(4.4 -47)" points="0,-.02 1,-.02 2,-.02 3,-.03 4,.14 5,.16 6,.22 7,.3 8,.3 9,.28 10,.28"/>
<polyline class="sp gy" transform="translate(1193.4 214.4) scale(4.4 -47)" points="0,0 1,0 2,0 3,0 4,.1 5,.2 6,.25 7,.35 8,.3 9,.28 10,.28"/>
<polyline class="sp rd" transform="translate(507 276.9) scale(4.4 -47)" points="0,0 1,0 2,0 3,.01 4,.04 5,.06 6,.08 7,.09 8,.09 9,.09 10,.09"/>
<polyline class="sp rd" transform="translate(569.4 276.9) scale(4.4 -47)" points="0,0 1,0 2,0 3,-.01 4,.03 5,.06 6,.08 7,.1 8,.12 9,.13 10,.13"/>
<polyline class="sp rd" transform="translate(631.8 276.9) scale(4.4 -47)" points="0,0 1,-.01 2,-.02 3,-.02 4,-.01 5,0 6,.02 7,.04 8,.04 9,.04 10,.04"/>
<polyline class="sp rd" transform="translate(694.2 276.9) scale(4.4 -47)" points="0,0 1,0 2,0 3,-.01 4,.04 5,.07 6,.09 7,.11 8,.12 9,.14 10,.16"/>
<polyline class="sp rd" transform="translate(756.6 276.9) scale(4.4 -47)" points="0,0 1,0 2,-.01 3,-.01 4,0 5,0 6,.03 7,.03 8,.03 9,.03 10,.03"/>
<polyline class="sp rd" transform="translate(819 276.9) scale(4.4 -47)" points="0,0 1,0 2,0 3,0 4,0 5,.01 6,.01 7,.02 8,.02 9,.03 10,.03"/>
<polyline class="sp gy" transform="translate(881.4 276.9) scale(4.4 -47)" points="0,0 1,.01 2,.02 3,.04 4,.06 5,.07 6,.12 7,.28 8,.24 9,.2 10,.22"/>
<polyline class="sp gy" transform="translate(943.8 276.9) scale(4.4 -47)" points="0,0 1,0 2,0 3,.1 4,.12 5,.13 6,.15 7,.17 8,.2 9,.23 10,.28"/>
<polyline class="sp gy" transform="translate(1006.2 276.9) scale(4.4 -47)" points="0,0 1,0 2,0 3,0 4,.06 5,.1 6,.12 7,.13 8,.15 9,.17 10,.2"/>
<polyline class="sp gy" transform="translate(1068.6 276.9) scale(4.4 -47)" points="0,0 1,0 2,0 3,0 4,.1 5,.14 6,.14 7,.16 8,.17 9,.2 10,.22"/>
<polyline class="sp gy" transform="translate(1131 276.9) scale(4.4 -47)" points="0,0 1,0 2,0 3,0 4,0 5,.03 6,.06 7,.09 8,.11 9,.14 10,.14"/>
<polyline class="sp gy" transform="translate(1193.4 276.9) scale(4.4 -47)" points="0,0 1,0 2,0 3,0 4,0 5,.03 6,.07 7,.09 8,.1 9,.12 10,.1"/>
<polyline class="sp gy" transform="translate(507 339.4) scale(4.4 -47)" points="0,0 1,0 2,0 3,0 4,0 5,.01 6,.01 7,.02 8,.02 9,.02 10,.02"/>
<polyline class="sp gy" transform="translate(569.4 339.4) scale(4.4 -47)" points="0,0 1,0 2,0 3,0 4,0 5,.01 6,.01 7,.02 8,.01 9,.02 10,.02"/>
<polyline class="sp gy" transform="translate(631.8 339.4) scale(4.4 -47)" points="0,0 1,.02 2,.04 3,.06 4,.4 5,.25 6,.38 7,.5 8,.55 9,.5 10,.42"/>
<polyline class="sp gy" transform="translate(694.2 339.4) scale(4.4 -47)" points="0,0 1,.04 2,.08 3,.12 4,.45 5,.62 6,.67 7,.6 8,.5 9,.38 10,.34"/>
<polyline class="sp gy" transform="translate(756.6 339.4) scale(4.4 -47)" points="0,-.03 1,.05 2,.12 3,.2 4,.6 5,.68 6,.73 7,.78 8,.73 9,.68 10,.6"/>
<polyline class="sp gy" transform="translate(819 339.4) scale(4.4 -47)" points="0,0 1,0 2,0 3,.05 4,.2 5,.33 6,.3 7,.28 8,.2 9,.12 10,.08"/>
<polyline class="sp gy" transform="translate(881.4 339.4) scale(4.4 -47)" points="0,0 1,0 2,0 3,.02 4,.03 5,.06 6,.1 7,.2 8,.4 9,.6 10,.42"/>
<polyline class="sp gy" transform="translate(943.8 339.4) scale(4.4 -47)" points="0,-.02 1,.05 2,.1 3,.18 4,.25 5,.4 6,.47 7,.57 8,.42 9,.4 10,.4"/>
<polyline class="sp gy" transform="translate(1006.2 339.4) scale(4.4 -47)" points="0,-.02 1,.06 2,.12 3,.2 4,.3 5,.4 6,.5 7,.48 8,.4 9,.36 10,.36"/>
<polyline class="sp gy" transform="translate(1068.6 339.4) scale(4.4 -47)" points="0,-.02 1,.06 2,.12 3,.2 4,.2 5,.38 6,.5 7,.56 8,.45 9,.4 10,.38"/>
<polyline class="sp gy" transform="translate(1131 339.4) scale(4.4 -47)" points="0,-.02 1,.05 2,.12 3,.18 4,.3 5,.4 6,.46 7,.42 8,.34 9,.34 10,.34"/>
<polyline class="sp gy" transform="translate(1193.4 339.4) scale(4.4 -47)" points="0,0 1,.03 2,.06 3,.1 4,.16 5,.22 6,.3 7,.35 8,.3 9,.22 10,.17"/>
<polyline class="sp gy" transform="translate(507 401.9) scale(4.4 -47)" points="0,0 1,0 2,0 3,.12 4,.2 5,.3 6,.4 7,.45 8,.45 9,.42 10,.4"/>
<polyline class="sp gy" transform="translate(569.4 401.9) scale(4.4 -47)" points="0,0 1,0 2,0 3,.35 4,.32 5,.35 6,.4 7,.38 8,.43 9,.45 10,.42"/>
<polyline class="sp gy" transform="translate(631.8 401.9) scale(4.4 -47)" points="0,0 1,0 2,0 3,0 4,0 5,.03 6,.08 7,.12 8,.17 9,.22 10,.23"/>
<polyline class="sp gy" transform="translate(694.2 401.9) scale(4.4 -47)" points="0,0 1,0 2,0 3,0 4,.1 5,.2 6,.4 7,.45 8,.51 9,.47 10,.44"/>
<polyline class="sp gy" transform="translate(756.6 401.9) scale(4.4 -47)" points="0,0 1,0 2,0 3,0 4,.05 5,.1 6,.2 7,.35 8,.4 9,.37 10,.36"/>
<polyline class="sp gy" transform="translate(819 401.9) scale(4.4 -47)" points="0,0 1,0 2,0 3,0 4,.1 5,.15 6,.35 7,.45 8,.5 9,.5 10,.45"/>
<polyline class="sp gy" transform="translate(881.4 401.9) scale(4.4 -47)" points="0,0 1,0 2,0 3,.15 4,.25 5,.24 6,.32 7,.42 8,.46 9,.48 10,.43"/>
<polyline class="sp gy" transform="translate(943.8 401.9) scale(4.4 -47)" points="0,0 1,0 2,0 3,.15 4,.1 5,.26 6,.35 7,.46 8,.46 9,.42 10,.38"/>
<polyline class="sp gy" transform="translate(1006.2 401.9) scale(4.4 -47)" points="0,0 1,0 2,0 3,.05 4,.46 5,.2 6,.18 7,.2 8,.2 9,.19 10,.18"/>
<polyline class="sp gy" transform="translate(1068.6 401.9) scale(4.4 -47)" points="0,0 1,0 2,0 3,.05 4,.2 5,.14 6,.16 7,.18 8,.16 9,.15 10,.14"/>
<polyline class="sp gy" transform="translate(1131 401.9) scale(4.4 -47)" points="0,0 1,0 2,0 3,.05 4,.27 5,.18 6,.25 7,.25 8,.27 9,.27 10,.27"/>
<polyline class="sp gy" transform="translate(1193.4 401.9) scale(4.4 -47)" points="0,0 1,0 2,0 3,.05 4,.12 5,.15 6,.18 7,.2 8,.2 9,.22 10,.23"/>
<polyline class="sp gy" transform="translate(507 464.4) scale(4.4 -47)" points="0,0 1,0 2,.02 3,.1 4,.14 5,.2 6,.25 7,.38 8,.45 9,.5 10,.26"/>
<polyline class="sp gy" transform="translate(569.4 464.4) scale(4.4 -47)" points="0,0 1,.04 2,.08 3,.15 4,.32 5,.45 6,.5 7,.58 8,.56 9,.58 10,.6"/>
<polyline class="sp gy" transform="translate(631.8 464.4) scale(4.4 -47)" points="0,0 1,0 2,0 3,.02 4,.04 5,.08 6,.1 7,.12 8,.15 9,.22 10,.37"/>
<polyline class="sp gy" transform="translate(694.2 464.4) scale(4.4 -47)" points="0,0 1,0 2,0 3,.05 4,.35 5,.3 6,.45 7,.6 8,.75 9,.8 10,.8"/>
<polyline class="sp gy" transform="translate(756.6 464.4) scale(4.4 -47)" points="0,0 1,0 2,0 3,.05 4,.05 5,.2 6,.28 7,.35 8,.5 9,.6 10,.8"/>
<polyline class="sp gy" transform="translate(819 464.4) scale(4.4 -47)" points="0,0 1,0 2,0 3,0 4,.02 5,.03 6,.06 7,.08 8,.12 9,.18 10,.26"/>
<polyline class="sp gy" transform="translate(881.4 464.4) scale(4.4 -47)" points="0,0 1,-.02 2,-.04 3,.08 4,.04 5,.1 6,.2 7,.33 8,.3 9,.3 10,.3"/>
<polyline class="sp gy" transform="translate(943.8 464.4) scale(4.4 -47)" points="0,0 1,-.02 2,-.03 3,.1 4,.06 5,.15 6,.4 7,.42 8,.36 9,.42 10,.42"/>
<polyline class="sp gy" transform="translate(1006.2 464.4) scale(4.4 -47)" points="0,0 1,0 2,0 3,.03 4,.05 5,.1 6,.25 7,.5 8,.42 9,.46 10,.42"/>
<polyline class="sp gy" transform="translate(1068.6 464.4) scale(4.4 -47)" points="0,0 1,-.03 2,-.03 3,.05 4,.1 5,.18 6,.25 7,.32 8,.32 9,.3 10,.3"/>
<polyline class="sp gy" transform="translate(1131 464.4) scale(4.4 -47)" points="0,0 1,-.03 2,-.03 3,.03 4,.08 5,.13 6,.18 7,.2 8,.18 9,.2 10,.2"/>
<polyline class="sp gy" transform="translate(1193.4 464.4) scale(4.4 -47)" points="0,0 1,0 2,0 3,.02 4,.05 5,.1 6,.15 7,.25 8,.35 9,.26 10,.28"/>
<polyline class="sp gy" transform="translate(507 526.9) scale(4.4 -47)" points="0,0 1,-.02 2,-.02 3,0 4,.02 5,.03 6,.04 7,.05 8,.04 9,.04 10,.04"/>
<polyline class="sp gy" transform="translate(569.4 526.9) scale(4.4 -47)" points="0,0 1,-.01 2,-.01 3,0 4,.02 5,.02 6,.04 7,.03 8,.04 9,.04 10,.04"/>
<polyline class="sp gy" transform="translate(631.8 526.9) scale(4.4 -47)" points="0,0 1,-.02 2,-.02 3,0 4,.02 5,.04 6,.03 7,.05 8,.04 9,.05 10,.05"/>
<polyline class="sp gy" transform="translate(694.2 526.9) scale(4.4 -47)" points="0,0 1,-.02 2,-.02 3,0 4,.01 5,.03 6,.04 7,.05 8,.05 9,.05 10,.05"/>
<polyline class="sp gy" transform="translate(756.6 526.9) scale(4.4 -47)" points="0,0 1,0 2,.01 3,.02 4,.03 5,.04 6,.05 7,.06 8,.08 9,.07 10,.08"/>
<polyline class="sp gy" transform="translate(819 526.9) scale(4.4 -47)" points="0,0 5,0 10,0"/>
<polyline class="sp gy" transform="translate(881.4 526.9) scale(4.4 -47)" points="0,0 1,.01 2,.03 3,.05 4,.06 5,.08 6,.1 7,.11 8,.12 9,.13 10,.12"/>
<polyline class="sp gy" transform="translate(943.8 526.9) scale(4.4 -47)" points="0,0 1,0 2,0 3,.02 4,.03 5,.05 6,.06 7,.07 8,.08 9,.09 10,.09"/>
<polyline class="sp gy" transform="translate(1006.2 526.9) scale(4.4 -47)" points="0,0 1,0 2,-.01 3,0 4,.02 5,.02 6,.03 7,.04 8,.05 9,.04 10,.05"/>
<polyline class="sp gy" transform="translate(1068.6 526.9) scale(4.4 -47)" points="0,0 1,0 2,-.01 3,.01 4,.02 5,.04 6,.06 7,.05 8,.04 9,.04 10,.03"/>
<polyline class="sp gy" transform="translate(1131 526.9) scale(4.4 -47)" points="0,0 1,0 2,-.01 3,0 4,.02 5,.02 6,.03 7,.04 8,.04 9,.03 10,.02"/>
<polyline class="sp gy" transform="translate(1193.4 526.9) scale(4.4 -47)" points="0,0 1,0 2,0 3,0 4,.02 5,.03 6,.05 7,.04 8,.02 9,0 10,-.03"/>
<g fill="none" stroke="#222" stroke-width="1.5">
<path d="M 1262 32 L 1268.5 32 L 1268.5 281.6 L 1262 281.6"/>
<path d="M 1262 287.7 L 1268.5 287.7 L 1268.5 538 L 1262 538"/>
<path d="M 498 545.8 L 498 553 L 872.4 553 L 872.4 545.8"/>
<path d="M 878 545.8 L 878 553 L 1252.5 553 L 1252.5 545.8"/>
</g>
<path d="M 451.9 497 L 451.9 568.6 L 522.6 568.6" fill="none" stroke="#222" stroke-width="2"/>
<text x="0" y="0" font-size="21" transform="translate(447 562) rotate(-90)" textLength="58" lengthAdjust="spacingAndGlyphs" fill="#111">TEER</text>
<text x="462" y="589" font-size="21" textLength="49" lengthAdjust="spacingAndGlyphs" fill="#111">Time</text>
<text x="685" y="580" font-size="26" text-anchor="middle" fill="#111">Colon</text>
<text x="1066" y="580" font-size="26" text-anchor="middle" fill="#111">Ileum</text>
<text x="0" y="0" font-size="28" transform="translate(1282.5 157.3) rotate(90)" text-anchor="middle" textLength="231" lengthAdjust="spacingAndGlyphs" fill="#111">Seeding Method A</text>
<text x="0" y="0" font-size="28" transform="translate(1282.5 413.5) rotate(90)" text-anchor="middle" textLength="229" lengthAdjust="spacingAndGlyphs" fill="#111">Seeding Method B</text>

<!-- ================= PANEL D ================= -->
<rect x="503" y="656.5" width="460" height="328.5" fill="none" stroke="#111" stroke-width="2.2"/>
<g stroke="#111" stroke-width="2">
<line x1="495" y1="656.5" x2="503" y2="656.5"/><line x1="495" y1="762.5" x2="503" y2="762.5"/><line x1="495" y1="868.4" x2="503" y2="868.4"/><line x1="495" y1="974.2" x2="503" y2="974.2"/>
<line x1="498.5" y1="709.5" x2="503" y2="709.5"/><line x1="498.5" y1="815.4" x2="503" y2="815.4"/><line x1="498.5" y1="921.3" x2="503" y2="921.3"/>
<line x1="523.5" y1="985" x2="523.5" y2="995"/><line x1="565.3" y1="985" x2="565.3" y2="995"/><line x1="607.1" y1="985" x2="607.1" y2="995"/><line x1="649" y1="985" x2="649" y2="995"/><line x1="690.8" y1="985" x2="690.8" y2="995"/><line x1="732.6" y1="985" x2="732.6" y2="995"/><line x1="774.4" y1="985" x2="774.4" y2="995"/><line x1="816.3" y1="985" x2="816.3" y2="995"/><line x1="858.1" y1="985" x2="858.1" y2="995"/><line x1="899.9" y1="985" x2="899.9" y2="995"/><line x1="941.7" y1="985" x2="941.7" y2="995"/>
</g>
<g font-size="17.5" font-weight="bold" fill="#111" text-anchor="end">
<text x="489.5" y="662.5">300</text><text x="489.5" y="768.5">200</text><text x="489.5" y="874.4">100</text><text x="489.5" y="980.2">0</text>
</g>
<g font-size="17.5" font-weight="bold" fill="#111" text-anchor="middle">
<text x="523.5" y="1015">1</text><text x="565.3" y="1015">2</text><text x="607.1" y="1015">3</text><text x="649" y="1015">4</text><text x="690.8" y="1015">5</text><text x="732.6" y="1015">6</text><text x="774.4" y="1015">7</text><text x="816.3" y="1015">8</text><text x="858.1" y="1015">9</text><text x="899.9" y="1015">10</text><text x="941.7" y="1015">11</text>
</g>
<text x="733.6" y="1048" font-size="21" font-weight="bold" text-anchor="middle" fill="#111">Time (day)</text>
<text x="0" y="0" transform="translate(448 815) rotate(-90)" font-size="21" font-weight="bold" text-anchor="middle" fill="#111">TEER (Ω.cm<tspan font-size="13" dy="-8">2</tspan><tspan dy="8">)</tspan></text>
<line x1="649" y1="657" x2="649" y2="985" stroke="#111" stroke-width="2.6" stroke-dasharray="6 3"/>
<g stroke="#e32228" stroke-width="2.2" fill="none">
<polyline stroke-width="2.6" points="523.5,974.2 649,980.8 690.8,968.6 732.6,955 774.4,942 816.3,929.5 858.1,931.5 899.9,922.9 941.7,924.1"/>
<path d="M 523.5 971.5 V 976.5 M 519.5 971.5 H 527.5 M 649 973 V 986 M 645 986 H 653 M 690.8 959.9 V 979.4 M 686.8 959.9 H 694.8 M 686.8 979.4 H 694.8 M 732.6 941.2 V 969.2 M 728.6 941.2 H 736.6 M 728.6 969.2 H 736.6 M 774.4 924.6 V 960.5 M 770.4 924.6 H 778.4 M 770.4 960.5 H 778.4 M 816.3 905.8 V 952.1 M 812.3 905.8 H 820.3 M 812.3 952.1 H 820.3 M 858.1 908.4 V 954.2 M 854.1 908.4 H 862.1 M 854.1 954.2 H 862.1 M 899.9 894.3 V 951.2 M 895.9 894.3 H 903.9 M 895.9 951.2 H 903.9 M 941.7 895.7 V 952.7 M 937.7 895.7 H 945.7 M 937.7 952.7 H 945.7"/>
</g>
<g fill="#e32228">
<path d="M 519 970.7 H 528 L 523.5 978.7 Z M 644.5 977.3 H 653.5 L 649 985.3 Z M 686.3 965.1 H 695.3 L 690.8 973.1 Z M 728.1 951.5 H 737.1 L 732.6 959.5 Z M 769.9 938.5 H 778.9 L 774.4 946.5 Z M 811.8 926 H 820.8 L 816.3 934 Z M 853.6 928 H 862.6 L 858.1 936 Z M 895.4 919.4 H 904.4 L 899.9 927.4 Z M 937.2 920.6 H 946.2 L 941.7 928.6 Z"/>
</g>
<g stroke="#2452a4" stroke-width="2.2" fill="none">
<polyline stroke-width="2.6" points="523.5,974.2 649,976.3 690.8,874.7 732.6,878.9 774.4,814.3 816.3,759.3 858.1,727.5 899.9,725.4 941.7,751.9"/>
<path d="M 649 971 V 982 M 645 971 H 653 M 690.8 819.6 V 929.7 M 686.8 819.6 H 694.8 M 686.8 929.7 H 694.8 M 732.6 837.6 V 919.1 M 728.6 837.6 H 736.6 M 728.6 919.1 H 736.6 M 774.4 783.6 V 845 M 770.4 783.6 H 778.4 M 770.4 845 H 778.4 M 816.3 728.6 V 791.1 M 812.3 728.6 H 820.3 M 812.3 791.1 H 820.3 M 858.1 698.9 V 758.2 M 854.1 698.9 H 862.1 M 854.1 758.2 H 862.1 M 899.9 690.5 V 762.5 M 895.9 690.5 H 903.9 M 895.9 762.5 H 903.9 M 941.7 711.6 V 793.2 M 937.7 711.6 H 945.7 M 937.7 793.2 H 945.7"/>
</g>
<g fill="#2452a4">
<circle cx="523.5" cy="974.2" r="4.3"/><circle cx="649" cy="976.3" r="4.3"/><circle cx="690.8" cy="874.7" r="4.3"/><circle cx="732.6" cy="878.9" r="4.3"/><circle cx="774.4" cy="814.3" r="4.3"/><circle cx="816.3" cy="759.3" r="4.3"/><circle cx="858.1" cy="727.5" r="4.3"/><circle cx="899.9" cy="725.4" r="4.3"/><circle cx="941.7" cy="751.9" r="4.3"/>
</g>
<line x1="539" y1="685.6" x2="566" y2="685.6" stroke="#2452a4" stroke-width="2.6"/>
<circle cx="552.5" cy="685.6" r="4.3" fill="#2452a4"/>
<line x1="539" y1="714" x2="566" y2="714" stroke="#e32228" stroke-width="2.6"/>
<path d="M 548 710.5 H 557 L 552.5 718.5 Z" fill="#e32228"/>
<text x="582" y="692" font-size="17" fill="#111">DM</text>
<text x="582" y="720" font-size="17" fill="#111">PM</text>

<!-- ================= PANEL E ================= -->
<g transform="translate(1046 653)">
<g clip-path="url(#eDM)">
<rect x="0" y="0" width="229" height="152" filter="url(#en)"/>
<g fill="#2c2f8e" opacity="0.45" filter="url(#blur3)">
<ellipse cx="22" cy="64" rx="18" ry="16"/><ellipse cx="74" cy="26" rx="15" ry="17"/><ellipse cx="137" cy="27" rx="16" ry="13"/><ellipse cx="22" cy="112" rx="18" ry="22"/><ellipse cx="216" cy="114" rx="14" ry="20"/><ellipse cx="96" cy="139" rx="20" ry="12"/><ellipse cx="45" cy="57" rx="14" ry="12"/><ellipse cx="170" cy="72" rx="18" ry="12"/><ellipse cx="100" cy="100" rx="16" ry="12"/><ellipse cx="160" cy="140" rx="18" ry="10"/>
</g>
<use xlink:href="#dmL" href="#dmL" fill="none" stroke="#1e8a34" stroke-width="3.6" stroke-linejoin="round" opacity="0.5"/>
<use xlink:href="#dmL" href="#dmL" fill="none" stroke="#50d848" stroke-width="1.5" stroke-linejoin="round" stroke-linecap="round"/>
<circle cx="73" cy="85" r="1.6" fill="#5ee048"/>
</g>
<rect x="5" y="145.7" width="53.4" height="2" fill="#fff"/>
<text x="1.6" y="24" font-size="24" font-weight="bold" fill="#fff">DM</text>
</g>
<g transform="translate(1046 835.5)">
<g clip-path="url(#ePM)">
<rect x="0" y="0" width="229" height="151" filter="url(#en)"/>
<ellipse cx="40" cy="115" rx="48" ry="32" fill="#2a8a40" opacity="0.35" filter="url(#blur3)"/>
<g filter="url(#blur1)">
<ellipse cx="18" cy="110" rx="16" ry="15" fill="#3548c8"/><ellipse cx="45" cy="138" rx="16" ry="18" fill="#3550d0"/><ellipse cx="78" cy="118" rx="14" ry="12" fill="#2f45b8" opacity="0.6"/><ellipse cx="198" cy="137" rx="20" ry="12" fill="#2f45b8" opacity="0.5"/><ellipse cx="226" cy="140" rx="10" ry="13" fill="#3550d8" opacity="0.7"/>
</g>
<g fill="#2a2f90" opacity="0.4" filter="url(#blur3)">
<ellipse cx="40" cy="50" rx="18" ry="16"/><ellipse cx="120" cy="40" rx="16" ry="14"/><ellipse cx="185" cy="50" rx="16" ry="14"/><ellipse cx="95" cy="90" rx="14" ry="12"/>
</g>
<use xlink:href="#pmL" href="#pmL" fill="none" stroke="#1e8a34" stroke-width="3.4" stroke-linejoin="round" opacity="0.5"/>
<use xlink:href="#pmL" href="#pmL" fill="none" stroke="#50d848" stroke-width="1.4" stroke-linejoin="round" stroke-linecap="round"/>
<circle cx="49" cy="117" r="3" fill="#66e050"/>
<circle cx="26" cy="61" r="2.5" fill="#66e050"/>
</g>
<rect x="11" y="139.5" width="54" height="2" fill="#fff"/>
<text x="1.6" y="22" font-size="24" font-weight="bold" fill="#fff">PM</text>
</g>

<!-- ================= PANEL F ================= -->
<rect x="512.6" y="1093.8" width="543" height="396.9" fill="none" stroke="#111" stroke-width="2.2"/>
<g stroke="#111" stroke-width="2">
<line x1="505" y1="1140" x2="512.6" y2="1140"/><line x1="505" y1="1216.1" x2="512.6" y2="1216.1"/><line x1="505" y1="1292.2" x2="512.6" y2="1292.2"/><line x1="505" y1="1368.3" x2="512.6" y2="1368.3"/><line x1="505" y1="1444.4" x2="512.6" y2="1444.4"/>
<line x1="533" y1="1490.7" x2="533" y2="1500.5"/><line x1="576.65" y1="1490.7" x2="576.65" y2="1500.5"/><line x1="620.3" y1="1490.7" x2="620.3" y2="1500.5"/><line x1="663.95" y1="1490.7" x2="663.95" y2="1500.5"/><line x1="707.6" y1="1490.7" x2="707.6" y2="1500.5"/><line x1="751.25" y1="1490.7" x2="751.25" y2="1500.5"/><line x1="794.9" y1="1490.7" x2="794.9" y2="1500.5"/><line x1="838.55" y1="1490.7" x2="838.55" y2="1500.5"/>
</g>
<g font-size="17.5" font-weight="bold" fill="#111" text-anchor="end">
<text x="505" y="1146">100</text><text x="505" y="1298.2">50</text><text x="505" y="1450.4">0</text>
</g>
<g font-size="17.5" font-weight="bold" fill="#111" text-anchor="middle">
<text x="533" y="1522">0</text><text x="576.65" y="1522">15</text><text x="620.3" y="1522">30</text><text x="663.95" y="1522">45</text><text x="707.6" y="1522">60</text><text x="751.25" y="1522">75</text><text x="794.9" y="1522">90</text><text x="838.55" y="1522">105</text>
</g>
<text x="685.6" y="1563" font-size="21.5" font-weight="bold" text-anchor="middle" fill="#111">Time (min)</text>
<text x="0" y="0" transform="translate(452 1290) rotate(-90)" font-size="22" font-weight="bold" text-anchor="middle" textLength="231" lengthAdjust="spacingAndGlyphs" fill="#111">Normalized TEER (%)</text>
<line x1="664" y1="1094" x2="664" y2="1490" stroke="#111" stroke-width="2.6" stroke-dasharray="6.5 3.5"/>
<g stroke="#111" stroke-width="2.4"><line x1="544" y1="1474" x2="650" y2="1474"/><line x1="677" y1="1474" x2="826" y2="1474"/></g>
<g fill="#111">
<polygon points="533,1474 546,1468.5 546,1479.5"/><polygon points="661.8,1474 648.8,1468.5 648.8,1479.5"/>
<polygon points="665.5,1474 678.5,1468.5 678.5,1479.5"/><polygon points="838.5,1474 825.5,1468.5 825.5,1479.5"/>
</g>
<text x="597" y="1464" font-size="18.5" text-anchor="middle" fill="#111">EGTA (+)</text>
<text x="750.7" y="1464" font-size="18.5" text-anchor="middle" fill="#111">EGTA (-)</text>
<g stroke="#f08a24" stroke-width="2.6" fill="none">
<path d="M 533 1140 C 547.55 1210, 562.1 1322.6, 576.65 1354.6 C 591.2 1386.6, 605.75 1398.7, 620.3 1401.8 C 634.85 1409.4, 649.4 1414, 663.95 1416.4 L 838.55 1439.8" stroke-dasharray="7 4.5"/>
<path stroke-width="2.2" d="M 838.55 1433.7 V 1446.2 M 834.55 1433.7 H 842.55 M 834.55 1446.2 H 842.55 M 576.65 1350 V 1368 M 572.65 1350 H 580.65 M 572.65 1368 H 580.65"/>
</g>
<g fill="#f08a24"><path d="M 838.55 1434.8 L 843.5 1439.8 L 838.55 1444.8 L 833.6 1439.8 Z M 576.65 1349.6 L 581.6 1354.6 L 576.65 1359.6 L 571.7 1354.6 Z M 620.3 1396.8 L 625.2 1401.8 L 620.3 1406.8 L 615.4 1401.8 Z"/></g>
<g stroke="#7b3f9e" stroke-width="2.6" fill="none">
<path d="M 533 1140 C 547.55 1200.9, 562.1 1292.2, 576.65 1336.9 C 591.2 1377.4, 605.75 1395.7, 620.3 1400.6 C 634.85 1406.4, 649.4 1412.4, 663.95 1414.9 L 838.55 1343.9" stroke-dasharray="0.1 5.5" stroke-linecap="round" stroke-width="3"/>
<path stroke-width="2.2" d="M 576.65 1316.9 V 1350.3 M 572.65 1316.9 H 580.65 M 572.65 1350.3 H 580.65 M 620.3 1393.3 V 1407.9 M 616.3 1393.3 H 624.3 M 616.3 1407.9 H 624.3 M 838.55 1284.6 V 1404.8 M 834.55 1284.6 H 842.55 M 834.55 1404.8 H 842.55"/>
</g>
<g fill="#7b3f9e"><path d="M 572.2 1333 H 581.1 L 576.65 1341 Z M 615.8 1396.7 H 624.8 L 620.3 1404.7 Z M 834.1 1340 H 843 L 838.55 1348 Z M 659.5 1411 H 668.4 L 663.95 1419 Z"/></g>
<g stroke="#3aaa35" stroke-width="2.6" fill="none">
<path d="M 533 1140 C 547.55 1207, 562.1 1316.6, 576.65 1357 C 591.2 1386.6, 605.75 1398.7, 620.3 1403 C 634.85 1409.4, 649.4 1414, 663.95 1416.4 L 838.55 1320.8" stroke-dasharray="6 4 1.5 4 1.5 4"/>
<path stroke-width="2.2" d="M 576.65 1339.1 V 1372 M 572.65 1339.1 H 580.65 M 572.65 1372 H 580.65 M 620.3 1390.2 V 1414.6 M 616.3 1390.2 H 624.3 M 616.3 1414.6 H 624.3 M 663.95 1409.4 V 1423 M 659.95 1409.4 H 667.95 M 659.95 1423 H 667.95 M 838.55 1291.3 V 1348.2 M 834.55 1291.3 H 842.55 M 834.55 1348.2 H 842.55"/>
</g>
<g fill="#3aaa35"><path d="M 576.65 1352 L 581.6 1361 L 571.7 1361 Z M 620.3 1398 L 625.2 1407 L 615.4 1407 Z M 663.95 1411.4 L 668.9 1420.4 L 659 1420.4 Z M 838.55 1315.8 L 843.5 1324.8 L 833.6 1324.8 Z"/></g>
<g stroke="#e8262a" stroke-width="2.6" fill="none">
<polyline points="533,1140 576.65,1151.9 620.3,1148.5 663.95,1149.7 838.55,1170.1"/>
<path stroke-width="2.2" d="M 576.65 1135.1 V 1168 M 572.65 1135.1 H 580.65 M 572.65 1168 H 580.65 M 620.3 1132.1 V 1165.9 M 616.3 1132.1 H 624.3 M 616.3 1165.9 H 624.3 M 663.95 1132.1 V 1165.9 M 659.95 1132.1 H 667.95 M 659.95 1165.9 H 667.95 M 838.55 1135.1 V 1206 M 834.55 1135.1 H 842.55 M 834.55 1206 H 842.55"/>
</g>
<g fill="#e8262a"><circle cx="576.65" cy="1151.9" r="4.2"/><circle cx="620.3" cy="1148.5" r="4.2"/><circle cx="663.95" cy="1149.7" r="4.2"/><circle cx="838.55" cy="1170.1" r="4.2"/></g>
<g stroke="#2a4d9b" stroke-width="2.6" fill="none">
<polyline points="533,1140 576.65,1150.3 620.3,1149.4 663.95,1149.1 838.55,1173.5" stroke-dasharray="7 4.5"/>
<path stroke-width="2.2" d="M 576.65 1142.1 V 1157.6 M 572.65 1142.1 H 580.65 M 572.65 1157.6 H 580.65 M 620.3 1141 V 1157.5 M 616.3 1141 H 624.3 M 616.3 1157.5 H 624.3 M 663.95 1142.6 V 1155.8 M 659.95 1142.6 H 667.95 M 659.95 1155.8 H 667.95 M 838.55 1142.4 V 1206 M 834.55 1142.4 H 842.55 M 834.55 1206 H 842.55"/>
</g>
<g fill="#2a4d9b"><rect x="528.5" y="1135.5" width="9" height="9"/><rect x="572.15" y="1145.8" width="9" height="9"/><rect x="615.8" y="1144.9" width="9" height="9"/><rect x="659.45" y="1144.6" width="9" height="9"/><rect x="834.05" y="1169" width="9" height="9"/></g>
<line x1="897.3" y1="1132.8" x2="959.8" y2="1132.8" stroke="#2a4d9b" stroke-width="2.7" stroke-dasharray="6.7 4.5"/>
<rect x="924" y="1128.3" width="9" height="9" fill="#2a4d9b"/>
<line x1="897.3" y1="1168.8" x2="959.8" y2="1168.8" stroke="#e8262a" stroke-width="2.7"/>
<circle cx="928.5" cy="1168.8" r="4.5" fill="#e8262a"/>
<line x1="897.3" y1="1205.2" x2="959.8" y2="1205.2" stroke="#3aaa35" stroke-width="2.7" stroke-dasharray="6 4 1.5 4 1.5 4"/>
<path d="M 928.5 1200.2 L 933.5 1209.2 L 923.5 1209.2 Z" fill="#3aaa35"/>
<line x1="897.3" y1="1241.9" x2="959.8" y2="1241.9" stroke="#7b3f9e" stroke-width="3" stroke-dasharray="0.1 5.5" stroke-linecap="round"/>
<path d="M 924 1238.4 H 933 L 928.5 1246.4 Z" fill="#7b3f9e"/>
<line x1="903.6" y1="1278.5" x2="965.4" y2="1278.5" stroke="#f08a24" stroke-width="2.7" stroke-dasharray="6.7 5"/>
<path d="M 934.5 1273.5 L 939.5 1278.5 L 934.5 1283.5 L 929.5 1278.5 Z" fill="#f08a24"/>
<g font-size="18" fill="#111" text-anchor="end">
<text x="1040.7" y="1139">0&#160;&#160;mM</text>
<text x="1040.7" y="1175">1.1 mM</text>
<text x="1040.7" y="1211.4">3.3 mM</text>
<text x="1040.7" y="1248.1">10&#160;&#160;mM</text>
<text x="1040.7" y="1284.7">30 mM</text>
</g>

<!-- ================= PANEL G ================= -->
<rect x="1138.6" y="1090" width="131" height="133.6" filter="url(#g1)"/>
<rect x="1138.6" y="1226.4" width="131" height="133" filter="url(#g2)"/>
<rect x="1138.6" y="1362.4" width="131" height="133" filter="url(#g3)"/>
<g font-size="24" font-weight="bold" fill="#fff" text-anchor="middle">
<text x="1204.5" y="1113">0 mM</text>
<text x="1204.5" y="1245.3">3.3 mM</text>
<text x="1204.5" y="1385">30 mM</text>
</g>
<rect x="1147.7" y="1486" width="46.3" height="2" fill="#fff"/>
</svg>
</body></html>
